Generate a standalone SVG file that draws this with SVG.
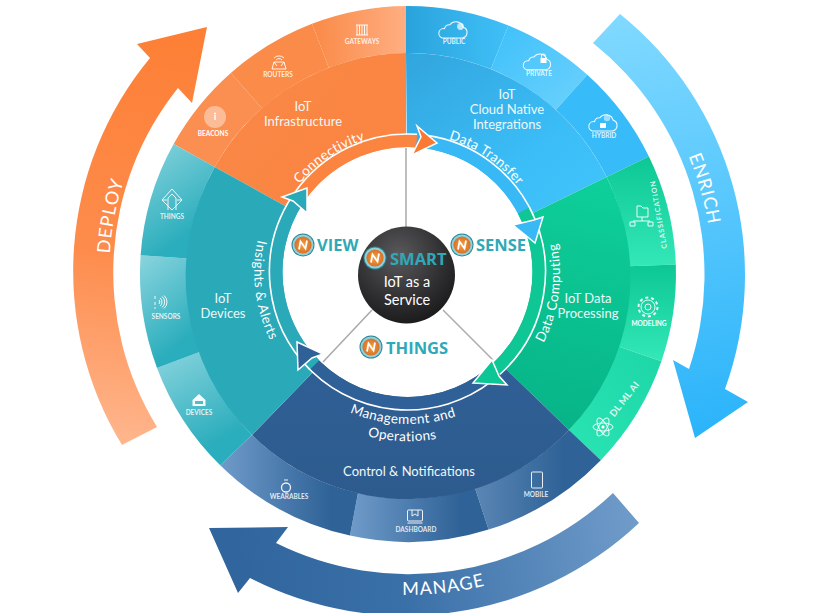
<svg xmlns="http://www.w3.org/2000/svg" xmlns:xlink="http://www.w3.org/1999/xlink" width="818" height="613" viewBox="0 0 818 613">
<style>
text{font-family:"Lato","Open Sans","Liberation Sans",sans-serif;fill:#fff}
.main{font-size:13px;text-anchor:middle;fill:#eef8f8}
.chip{font-size:6.5px;text-anchor:middle;fill:#fff;fill-opacity:.85;font-weight:700}
.curve{font-size:13.5px;text-anchor:middle;letter-spacing:.4px}
.big{font-size:18px;text-anchor:middle;font-weight:400;letter-spacing:1px}
.brand{font-family:"Open Sans","Lato",sans-serif;font-size:16.5px;font-weight:700;fill:#2fa9b8}
.ic{fill:none;stroke:#fff;stroke-width:1;stroke-opacity:.9}
.band{stroke:none}
.edge{fill:none;stroke:#fff;stroke-width:1.6}
.head{stroke:#fff;stroke-width:1.5;stroke-linejoin:miter}
.spoke{stroke:#a9a9a9;stroke-width:1.5;fill:none}
</style>
<defs>
<linearGradient id="gDeploy" gradientUnits="userSpaceOnUse" x1="200" y1="30" x2="130" y2="450"><stop offset="0" stop-color="#fd7f35"/><stop offset=".55" stop-color="#fd8c4c"/><stop offset="1" stop-color="#ffb78f"/></linearGradient>
<linearGradient id="gEnrich" gradientUnits="userSpaceOnUse" x1="610" y1="20" x2="700" y2="430"><stop offset="0" stop-color="#80d9ff"/><stop offset="1" stop-color="#2cb4fa"/></linearGradient>
<linearGradient id="gManage" gradientUnits="userSpaceOnUse" x1="240" y1="560" x2="630" y2="500"><stop offset="0" stop-color="#30659d"/><stop offset=".4" stop-color="#3a70a8"/><stop offset="1" stop-color="#6f9bc9"/></linearGradient>
<linearGradient id="gGate" x1="0" y1="0" x2="1" y2="0"><stop offset="0" stop-color="#fa8a47"/><stop offset="1" stop-color="#ffae82"/></linearGradient>
<linearGradient id="gPublic" x1="0" y1="0" x2="1" y2="0"><stop offset="0" stop-color="#2aa3dc"/><stop offset="1" stop-color="#40c0f8"/></linearGradient>
<linearGradient id="gPrivate" x1="0" y1="0" x2="1" y2="1"><stop offset="0" stop-color="#3dc0fa"/><stop offset="1" stop-color="#6dd2fd"/></linearGradient>
<linearGradient id="gBlueCore" x1="0" y1="0" x2=".7" y2="1"><stop offset="0" stop-color="#32a5dd"/><stop offset=".6" stop-color="#3bbdf7"/><stop offset="1" stop-color="#42c5fb"/></linearGradient>
<linearGradient id="gGreenChip" x1="0" y1="0" x2="0" y2="1"><stop offset="0" stop-color="#0cc794"/><stop offset="1" stop-color="#34e8b8"/></linearGradient>
<linearGradient id="gGreenCore" gradientUnits="userSpaceOnUse" x1="600" y1="180" x2="540" y2="420"><stop offset="0" stop-color="#0ecf99"/><stop offset="1" stop-color="#07b488"/></linearGradient>
<linearGradient id="gDL" x1="0" y1="1" x2="1" y2="0"><stop offset="0" stop-color="#2ae4b4"/><stop offset="1" stop-color="#1cd6a7"/></linearGradient>
<linearGradient id="gNavyChip" x1="0" y1="0" x2="1" y2="0"><stop offset="0" stop-color="#6f9bc9"/><stop offset=".8" stop-color="#2f6297"/></linearGradient>
<linearGradient id="gNavyChip2" x1="0" y1="0" x2="1" y2="0"><stop offset="0" stop-color="#5a86b4"/><stop offset=".7" stop-color="#2f6297"/></linearGradient>
<linearGradient id="gNavyCore" x1="0" y1="0" x2="0" y2="1"><stop offset="0" stop-color="#31629a"/><stop offset="1" stop-color="#2d5b8e"/></linearGradient>
<linearGradient id="gTealChip" x1=".15" y1="0" x2=".6" y2="1"><stop offset="0" stop-color="#84d2dc"/><stop offset=".85" stop-color="#2aadbc"/></linearGradient>
<linearGradient id="gOrangeCore" x1="0" y1="0" x2="1" y2="1"><stop offset="0" stop-color="#fa8848"/><stop offset="1" stop-color="#fb833e"/></linearGradient>
<radialGradient id="gBall" cx=".42" cy=".3" r=".8"><stop offset="0" stop-color="#5a5a5c"/><stop offset=".6" stop-color="#2e2e30"/><stop offset="1" stop-color="#141415"/></radialGradient>
<radialGradient id="gLogo" cx=".5" cy=".5" r=".5"><stop offset="0" stop-color="#f4a23c"/><stop offset="1" stop-color="#d9702a"/></radialGradient>
<g id="logo"><circle r="11.5" fill="#2c8796"/><circle r="10.5" fill="#8fd2dc"/><circle r="8.6" fill="url(#gLogo)"/><path d="M-4,4.5 L-2.5,-3.5 L2.5,3.5 L4,-4.5" fill="none" stroke="#fff" stroke-width="1.8"/></g>
<path id="cloud" style="stroke-width:.7" d="M-7,4.5 H6 A3.6,3.6 0 0 0 6.5,-2.5 A4.8,4.8 0 0 0 -2,-4 A3.4,3.4 0 0 0 -5.5,-1.5 A3.1,3.1 0 0 0 -7,4.5 Z"/>
<path id="pConn" d="M285.9,203.5 A141,141 0 0 1 388.4,134.4"/>
<path id="pData" d="M427.6,134.4 A141,141 0 0 1 530.1,203.5"/>
<path id="pComp" d="M529,366 A152,152 0 0 0 549,217"/>
<path id="pIns" d="M268,209 A152,152 0 0 0 288,368"/>
<path id="pMgmt" d="M324.1,398.4 A150,150 0 0 0 483,403.9"/>
<path id="pOps" d="M320,416 A167,167 0 0 0 485.9,422"/>
<path id="pDeploy" d="M118,346 A299,299 0 0 1 166,98"/>
<path id="pEnrich" d="M637.5,74.5 A304,304 0 0 1 708.5,321.5"/>
<path id="pManage" d="M303.4,577.6 A321,321 0 0 0 578,546.2"/>
</defs>
<rect width="818" height="613" fill="#fff"/>

<g id="deploy"><path fill="url(#gDeploy)" d="M122,445 A334,334 0 0 1 150,58 L137,44 L207,27 L192,103 L178,88 A295,295 0 0 0 157,427 Z"/>
<text class="big"><textPath href="#pDeploy" startOffset="50%">DEPLOY</textPath></text></g>
<g id="enrich"><path fill="url(#gEnrich)" d="M620,14 A335,335 0 0 1 725,389 L748,402 L695,438 L673,360 L689,369 A296,296 0 0 0 593,43 Z"/>
<text class="big"><textPath href="#pEnrich" startOffset="50%">ENRICH</textPath></text></g>
<g id="manage"><path fill="url(#gManage)" d="M639,523 A340,340 0 0 1 250,578 L238,593 L209,528 L288,527 L276,543 A298,298 0 0 0 613,493 Z"/>
<text class="big"><textPath href="#pManage" startOffset="50%">MANAGE</textPath></text></g>

<g id="chip-beacons"><path fill="#fb8f52" d="M173.6,144.1 A268,268 0 0 1 230.8,73 L261.9,108.2 A221,221 0 0 0 214.7,166.9 Z"/>
<circle cx="215" cy="117" r="11" fill="#fff" fill-opacity=".4"/><path d="M215,115 V120" stroke="#fff" stroke-width="1.4"/><circle cx="215" cy="113.5" r="1" fill="#fff"/>
<text class="chip" x="213" y="136" style="fill-opacity:1">BEACONS</text></g>
<g id="chip-routers"><path fill="#fb8b48" d="M230.8,73 A268,268 0 0 1 312,23.8 L328.8,67.7 A221,221 0 0 0 261.9,108.2 Z"/>
<g class="ic" transform="translate(279,62)"><path d="M-7,7 L-5,0 H5 L7,7 Z M-5,0 L-2,4 M5,0 L2,4 M-5,-4 A7,7 0 0 1 5,-4 M-3,-2 A4,4 0 0 1 3,-2"/></g>
<text class="chip" x="278" y="77">ROUTERS</text></g>
<g id="chip-gateways"><path fill="url(#gGate)" d="M312,23.8 A268,268 0 0 1 406,6 V53 A221,221 0 0 0 328.8,67.7 Z"/>
<g class="ic" transform="translate(362,30)"><path d="M-6,-5 H6 M-6,5 H6 M-5,-5 V5 M-2.5,-5 V5 M0,-5 V5 M2.5,-5 V5 M5,-5 V5"/></g>
<text class="chip" x="362" y="44">GATEWAYS</text></g>
<g id="core-infrastructure"><path fill="url(#gOrangeCore)" d="M408,274 L214.7,166.9 A221,221 0 0 1 406,53 V274 Z"/>
<text class="main" x="303" y="111">IoT</text><text class="main" x="303" y="126">Infrastructure</text></g>

<g id="chip-public"><path fill="url(#gPublic)" d="M406,6 A268,268 0 0 1 508.4,25.5 L490.8,69.1 A221,221 0 0 0 406,53 Z"/>
<use href="#cloud" class="ic" transform="translate(453,31) scale(1.55)"/><circle cx="460.5" cy="26.5" r="3.4" fill="#fff" fill-opacity=".7"/>
<text class="chip" x="454" y="44">PUBLIC</text></g>
<g id="chip-private"><path fill="url(#gPrivate)" d="M508.4,25.5 A268,268 0 0 1 587.3,74.8 L555.9,109.8 A221,221 0 0 0 490.8,69.1 Z"/>
<use href="#cloud" class="ic" transform="translate(537,63) scale(1.5)"/><rect x="540.5" y="58" width="6" height="5" fill="#fff"/><path d="M541.5,58 V56 A2,2 0 0 1 545.5,56 V58" class="ic"/>
<text class="chip" x="539" y="76">PRIVATE</text></g>
<g id="chip-hybrid"><path fill="#38bcf9" d="M587.3,74.8 A268,268 0 0 1 648.9,156.5 L606.6,177.1 A221,221 0 0 0 555.9,109.8 Z"/>
<use href="#cloud" class="ic" transform="translate(603,124) scale(1.55)"/><rect x="600" y="123" width="6" height="5" fill="#fff"/><circle cx="607" cy="118" r="3.2" fill="#fff" fill-opacity=".5"/>
<text class="chip" x="604" y="138">HYBRID</text></g>
<g id="core-cloud"><path fill="url(#gBlueCore)" d="M408,274 L406,53 A221,221 0 0 1 606.6,177.1 Z"/>
<text class="main" x="507" y="99">IoT</text><text class="main" x="507" y="114">Cloud Native</text><text class="main" x="507" y="129">Integrations</text></g>

<g id="chip-classification"><path fill="url(#gGreenChip)" d="M648.9,156.5 A268,268 0 0 1 675.8,264.6 L628.9,266.3 A221,221 0 0 0 606.6,177.1 Z"/>
<g class="ic" transform="translate(641,219)"><path d="M-4,-13 H0 L2,-11 H7 V-2 H-4 Z M1,-2 V2 M-8,3 V2 H9 V3 M-11,3 H-6 V7 H-11 Z M7,3 H12 V7 H7 Z"/></g>
<text class="chip" transform="translate(661,214) rotate(-100)" style="font-size:7.2px;letter-spacing:.9px">CLASSIFICATION</text></g>
<g id="chip-modeling"><path fill="url(#gGreenChip)" d="M675.8,264.6 A268,268 0 0 1 661.4,361.3 L617,346 A221,221 0 0 0 628.9,266.3 Z"/>
<g class="ic" transform="translate(648,307)"><circle r="3"/><circle r="7" stroke-width="1"/><circle r="9.5" stroke-width="2" stroke-dasharray="3 2.96"/></g>
<text class="chip" x="649" y="326" style="fill-opacity:1">MODELING</text></g>
<g id="chip-dl"><path fill="url(#gDL)" d="M661.4,361.3 A268,268 0 0 1 600.8,460.2 L569,430 A222,222 0 0 0 617,346 Z"/>
<g class="ic" transform="translate(603,427)"><ellipse rx="10" ry="4"/><ellipse rx="10" ry="4" transform="rotate(60)"/><ellipse rx="10" ry="4" transform="rotate(120)"/><circle r="1.2" fill="#fff"/></g>
<text class="chip" transform="translate(627,401) rotate(-52)" style="font-size:9.5px;letter-spacing:.3px">DL ML AI</text></g>
<g id="core-processing"><path fill="url(#gGreenCore)" d="M408,274 L606.6,177.1 A221,221 0 0 1 569,430 Z"/>
<text class="main" x="588" y="303">IoT Data</text><text class="main" x="588" y="318">Processing</text></g>

<g id="chip-mobile"><path fill="url(#gNavyChip2)" d="M600.8,460.2 A268,268 0 0 1 488.6,529.6 L475,488 A222,222 0 0 0 569,430 Z"/>
<rect class="ic" x="531.5" y="472" width="11" height="16" rx="1"/>
<text class="chip" x="536" y="497">MOBILE</text></g>
<g id="chip-dashboard"><path fill="url(#gNavyChip)" d="M488.6,529.6 A268,268 0 0 1 350,535.6 L358,493 A222,222 0 0 0 475,488 Z"/>
<g class="ic" transform="translate(415,517)"><rect x="-7.5" y="-7" width="15" height="11" rx="1"/><path d="M-7.5,6 H7.5 M-3,-7 V-1 L0,-3 L3,-1 V-7"/></g>
<text class="chip" x="416" y="532">DASHBOARD</text></g>
<g id="chip-wearables"><path fill="url(#gNavyChip)" d="M350,535.6 A268,268 0 0 1 220.2,465.2 L252,435 A222,222 0 0 0 358,493 Z"/>
<g class="ic" transform="translate(286,486)"><circle cy="1.5" r="4.5" stroke-width="1.3"/><path d="M-2,-6 H2"/></g>
<text class="chip" x="289" y="499">WEARABLES</text></g>
<g id="core-control"><path fill="url(#gNavyCore)" d="M408,274 L569,430 A222,222 0 0 1 252,435 Z"/>
<text class="main" x="409" y="476">Control &amp; Notifications</text></g>

<g id="chip-devices"><path fill="url(#gTealChip)" d="M220.2,465.2 A268,268 0 0 1 157,367.9 L201,351.4 A221,221 0 0 0 252,435 Z"/>
<path fill="#fff" fill-opacity=".95" d="M199,394 L205.5,400 V406 H192.5 V400 Z M195,401 V404 H203 V401 Z" fill-rule="evenodd"/>
<text class="chip" x="199" y="415">DEVICES</text></g>
<g id="chip-sensors"><path fill="url(#gTealChip)" d="M157,367.9 A268,268 0 0 1 140.6,255.3 L187.5,258.6 A221,221 0 0 0 201,351.4 Z"/>
<g class="ic" transform="translate(162,302)"><path d="M-7,-6 V-3 M-7,0 V3 M-7,5 V7 M-3,-2 A3,3 0 0 1 -3,2 M-2,-4 A5,5 0 0 1 -2,4 M0,-5.5 A7,7 0 0 1 0,5.5 M2,-6.5 A8.5,8.5 0 0 1 2,6.5"/></g>
<text class="chip" x="166" y="319">SENSORS</text></g>
<g id="chip-things"><path fill="url(#gTealChip)" d="M140.6,255.3 A268,268 0 0 1 173.6,144.1 L214.7,166.9 A221,221 0 0 0 187.5,258.6 Z"/>
<g class="ic" transform="translate(172,200)" stroke-width="1.2"><path d="M0,-11 L10,0 L0,10 L-10,0 Z M-4,10 V-2 L0,-6 L4,-2 V10 M-10,0 H-5 M10,0 H5"/></g>
<text class="chip" x="172" y="219">THINGS</text></g>
<g id="core-devices"><path fill="#2aa9b9" d="M408,274 L252,435 A222,222 0 0 1 214.7,166.9 Z"/>
<text class="main" x="223" y="303">IoT</text><text class="main" x="223" y="318">Devices</text></g>

<circle id="hub-clear" cx="407.5" cy="272" r="125" fill="#fff"/>

<g id="connectors">
<path class="spoke" d="M406,148 V228"/><path class="spoke" d="M323,362 L372,310"/><path class="spoke" d="M493,360 L443,310"/>
<g transform="translate(-.5,-2)">
<path class="band" fill="#fb8440" d="M295,194.8 A138,138 0 0 1 417.6,136.3 L416.7,149.3 A125,125 0 0 0 305.6,202.3 Z"/>
<path class="edge" d="M295,194.8 A138,138 0 0 1 417.6,136.3"/>
<path class="band" fill="#38b8f5" d="M427.2,137.4 A138,138 0 0 1 534.1,217.9 L522.2,223.1 A125,125 0 0 0 425.4,150.2 Z"/>
<path class="edge" d="M427.2,137.4 A138,138 0 0 1 534.1,217.9"/>
<path class="band" fill="#0ec795" d="M529.9,209.3 A138,138 0 0 1 500.3,376.5 L491.6,366.9 A125,125 0 0 0 518.4,215.4 Z"/>
<path class="edge" d="M529.9,209.3 A138,138 0 0 1 500.3,376.5"/>
<path class="band" fill="#2f6198" d="M493,382.7 A138,138 0 0 1 303.8,364.5 L313.6,356 A125,125 0 0 0 485,372.5 Z"/>
<path class="edge" d="M493,382.7 A138,138 0 0 1 303.8,364.5"/>
<path class="band" fill="#2aa9b9" d="M310.4,371.6 A138,138 0 0 1 292.2,198.8 L303.1,205.9 A125,125 0 0 0 319.6,362.4 Z"/>
<path class="edge" d="M310.4,371.6 A138,138 0 0 1 292.2,198.8"/>
</g>
<polygon class="head" fill="#fb7a33" points="437,143 417,126 421,137 412,155"/>
<polygon class="head" fill="#38b8f5" points="535,243 543,217 534,220 513,225"/>
<polygon class="head" fill="#0cc795" points="473,383 507,385 499,376 492,360"/>
<polygon class="head" fill="#2f6198" points="297,342 323,354 312,358 298,370"/>
<polygon class="head" fill="#2aa9b9" points="307,188 282,197 293,201 307,213"/>
</g>
<text class="curve"><textPath href="#pConn" startOffset="50%">Connectivity</textPath></text>
<text class="curve"><textPath href="#pData" startOffset="50%">Data Transfer</textPath></text>
<text class="curve"><textPath href="#pComp" startOffset="50%">Data Computing</textPath></text>
<text class="curve"><textPath href="#pIns" startOffset="50%">Insights &amp; Alerts</textPath></text>
<text class="curve"><textPath href="#pMgmt" startOffset="50%">Management and</textPath></text>
<text class="curve"><textPath href="#pOps" startOffset="50%">Operations</textPath></text>

<g id="view"><use href="#logo" x="303" y="245"/><text class="brand" x="317" y="251">VIEW</text></g>
<g id="sense"><use href="#logo" x="462" y="245"/><text class="brand" x="476" y="251">SENSE</text></g>
<g id="things"><use href="#logo" x="371" y="347"/><text class="brand" x="386" y="354">THINGS</text></g>
<g id="hub"><circle cx="406.5" cy="275" r="48.5" fill="url(#gBall)"/>
<use href="#logo" x="375" y="258"/><text class="brand" x="390" y="265">SMART</text>
<text x="407" y="287" text-anchor="middle" style="font-size:14.5px">IoT as a</text>
<text x="407" y="305" text-anchor="middle" style="font-size:14.5px">Service</text></g>
</svg>
